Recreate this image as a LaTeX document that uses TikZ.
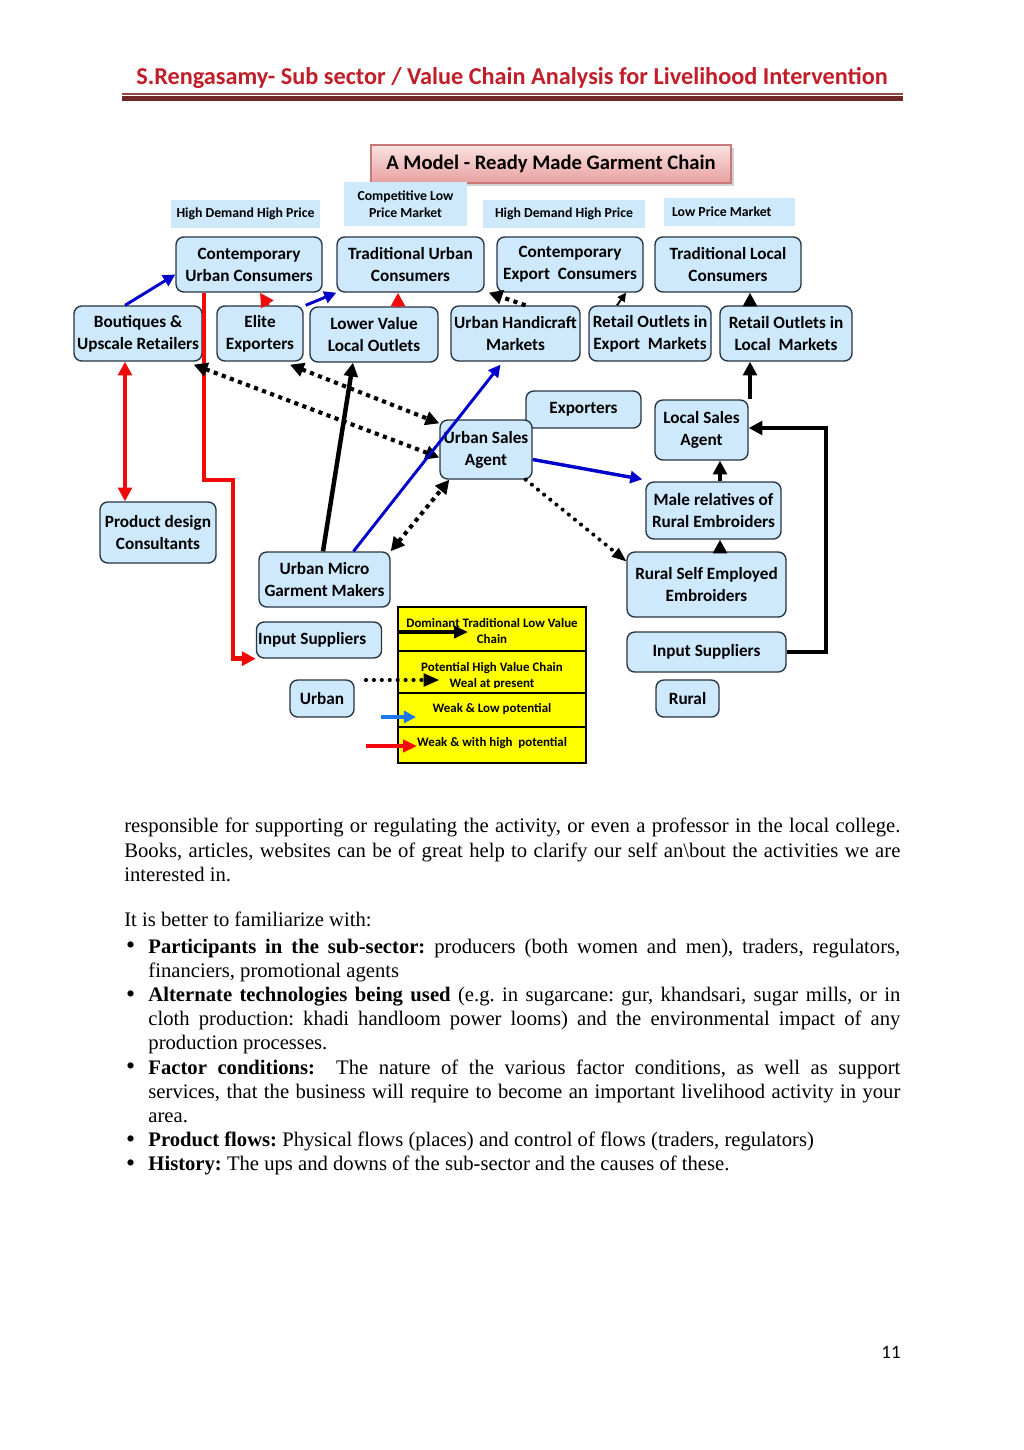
\documentclass[tikz,border=0pt]{standalone}
\usepackage{fontspec}
\setmainfont{Liberation Serif}
\newfontfamily\calib{Carlito}
\usetikzlibrary{arrows.meta,shadows,calc}
\newdimen\pxu \pxu=0.581pt
\definecolor{hdr}{RGB}{192,30,40}
\definecolor{rulec}{RGB}{110,40,40}
\definecolor{rulet}{RGB}{150,70,70}
\definecolor{boxfill}{RGB}{205,233,251}
\definecolor{boxline}{RGB}{40,52,66}
\definecolor{lblfill}{RGB}{205,233,251}
\definecolor{pinkA}{RGB}{250,226,226}
\definecolor{pinkB}{RGB}{232,160,160}
\definecolor{pinkline}{RGB}{200,120,120}
\definecolor{dblue}{RGB}{0,0,205}
\definecolor{lblue}{RGB}{30,120,235}
\definecolor{dred}{RGB}{240,10,10}
\definecolor{yel}{RGB}{255,255,0}
\tikzset{
  box/.style={draw=boxline, fill=boxfill, rounded corners=4.5pt, line width=0.8pt,
    align=center, inner sep=1pt, font=\calib\bfseries\fontsize{10}{12.8}\selectfont},
  sz/.style 2 args={minimum width=#1\pxu, minimum height=#2\pxu},
  lbl/.style={fill=lblfill, inner sep=0pt, align=center, font=\calib\bfseries\fontsize{8}{10}\selectfont},
  legrow/.style={draw=black, fill=yel, line width=0.6pt, inner sep=0pt, minimum width=188\pxu},
  legtxt/.style={align=center, inner sep=0pt, font=\calib\bfseries\fontsize{7.5}{9.3}\selectfont},
  tk/.style={line width=2.3pt, -{Triangle[length=8pt,width=8pt]}},
  tkb/.style={line width=1.7pt, dblue, -{Triangle[length=7pt,width=7pt]}},
  tkr/.style={line width=2.3pt, dred, -{Triangle[length=8pt,width=8pt]}},
  sqdot/.style={line width=2.4pt, dash pattern=on 2.4pt off 2.6pt, {Triangle[length=8pt,width=8pt]}-{Triangle[length=8pt,width=8pt]}},
  rddot/.style={line width=2.4pt, line cap=round, dash pattern=on 0pt off 4.6pt},
}
\newcommand{\bul}{\leavevmode\hangindent=14pt\hangafter=1\makebox[14pt][l]{\hspace{1pt}\raisebox{-0.4pt}{\fontsize{15}{15}\selectfont•}}}
\begin{document}
\begin{tikzpicture}[x=0.581pt, y=-0.581pt]
\useasboundingbox (0,0) rectangle (1024,1450);
\fill[white] (0,0) rectangle (1024,1450);

% header
\node[font=\calib\bfseries\fontsize{14.1}{16}\selectfont, text=hdr, inner sep=0pt] (hd) at (512,78) {S.Rengasamy- Sub sector / Value Chain Analysis for Livelihood Intervention};
\draw[rulet, line width=0.6pt] (122,94) -- (903,94);
\fill[rulec] (122,96.5) rectangle (903,101);

% title
\node[draw=pinkline, line width=0.6pt, top color=pinkA, bottom color=pinkB, minimum width=360\pxu, minimum height=38\pxu,
  inner sep=0pt, font=\calib\bfseries\fontsize{12}{14}\selectfont,
  drop shadow={shadow xshift=2pt, shadow yshift=-2pt, fill=black!35}] (title) at (551,164) {A Model - Ready Made Garment Chain};

% market labels
\node[lbl, sz={149}{28}] (l1) at (245.5,214) {High Demand High Price};
\node[lbl, sz={123}{44}] (l2) at (405.5,204) {Competitive Low\\Price Market};
\node[lbl, sz={162}{28}] (l3) at (564,214) {High Demand High Price};
\node[lbl, sz={131}{28}] (l4) at (729.5,212) {Low Price Market\hspace{9pt}};

% consumers
\node[box, sz={146}{55}] (cuc) at (249,264.5) {Contemporary\\Urban Consumers};
\node[box, sz={147}{55}] (tuc) at (410.5,264.5) {Traditional Urban\\Consumers};
\node[box, sz={146}{55}] (cec) at (570,264.5) {Contemporary\\Export\ \ Consumers};
\node[box, sz={146}{55}] (tlc) at (728,264.5) {Traditional Local\\Consumers};

% retail row
\node[box, sz={128}{55}] (bou) at (138,333.5) {Boutiques \&\\Upscale Retailers};
\node[box, sz={86}{55}] (eli) at (260,333.5) {Elite\\Exporters};
\node[box, sz={128}{55}] (lvl) at (374,334.5) {Lower Value\\Local Outlets};
\node[box, sz={129}{55}] (uhm) at (515.5,333.5) {Urban Handicraft\\Markets};
\node[box, sz={122}{55}] (roe) at (650,333.5) {Retail Outlets in\\Export\ \ Markets};
\node[box, sz={132}{55}] (rol) at (786,333.5) {Retail Outlets in\\Local\ \ Markets};

% middle
\node[box, sz={115}{37}] (exp) at (583.5,409.5) {Exporters};
\node[box, sz={92}{59}] (usa) at (486,449.5) {Urban Sales\\Agent};
\node[box, sz={93}{60}] (lsa) at (701.5,430) {Local Sales\\Agent};
\node[box, sz={135}{57}] (mre) at (713.5,510.5) {Male relatives of\\Rural Embroiders};
\node[box, sz={116}{61}] (pdc) at (158,532.5) {Product design\\Consultants};
\node[box, sz={131}{55}] (umg) at (324.5,579.5) {Urban Micro\\Garment Makers};
\node[box, sz={159}{65}] (rse) at (706.5,584.5) {Rural Self Employed\\Embroiders};
\node[box, sz={122}{36}] (isu) at (319,640) {Input Suppliers\hspace{8pt}};
\node[box, sz={159}{40}] (isr) at (706.5,652) {Input Suppliers};
\node[box, sz={64}{37}] (urb) at (322,698.5) {Urban};
\node[box, sz={63}{37}] (rur) at (687.5,698.5) {Rural};

% legend
\node[legrow, minimum height=44\pxu] (leg1) at (492,629) {};
\node[legrow, minimum height=42\pxu] (leg2) at (492,672) {};
\node[legrow, minimum height=34\pxu] (leg3) at (492,710) {};
\node[legrow, minimum height=36\pxu] (leg4) at (492,745) {};
\node[legtxt] (lt1) at (492,631) {Dominant Traditional Low Value\\Chain};
\begin{scope}
\clip (398,652) rectangle (586,687);
\node[legtxt] (lt2) at (492,676) {Potential High Value Chain\\Weal at present};
\end{scope}
\node[legtxt] (lt3) at (492,709) {Weak \& Low potential};
\node[legtxt] (lt4) at (492,743) {Weak \& with high\ \ potential};
\coordinate (g1s) at (398,632); \coordinate (g1e) at (468,632);
\coordinate (g2s) at (366,680); \coordinate (g2e) at (439,680);
\coordinate (g3s) at (381,717); \coordinate (g3e) at (416,717);
\coordinate (g4s) at (366,746); \coordinate (g4e) at (417,746);
\draw[line width=1.9pt, -{Triangle[length=8pt,width=7pt]}] (g1s) -- (g1e);
\draw[rddot] (g2s) -- ([xshift=-8pt]g2e);
\fill ([xshift=-9pt, yshift=4pt]g2e) -- (g2e) -- ([xshift=-9pt, yshift=-4pt]g2e) -- cycle;
\draw[line width=2.3pt, lblue, -{Triangle[length=7pt,width=7pt]}] (g3s) -- (g3e);
\draw[line width=2.3pt, dred, -{Triangle[length=8pt,width=7pt]}] (g4s) -- (g4e);

% connectors upper
\draw[tkb] ([xshift=-13\pxu]bou.north) -- ([yshift=-10\pxu]cuc.west);
\draw[tkr] ([xshift=8\pxu]eli.north) -- ([xshift=11\pxu]cuc.south);
\draw[tkb] ([xshift=2\pxu]eli.north east) -- (tuc.south west);
\draw[tkr] ([xshift=24\pxu]lvl.north) -- ([xshift=-12.5\pxu]tuc.south);
\draw[line width=2.4pt, dash pattern=on 2.4pt off 2.6pt, -{Triangle[length=8pt,width=8pt]}] ([xshift=10\pxu]uhm.north) -- ([xshift=4\pxu]tuc.south east);
\draw[line width=1.1pt, -{Triangle[length=5pt,width=5pt]}] ([xshift=-33\pxu]roe.north) -- ([xshift=56\pxu]cec.south);
\draw[tk] ([xshift=-36\pxu]rol.north) -- ([xshift=22\pxu]tlc.south);

% red elbow
\coordinate (redA) at (233,480);
\draw[line width=2.6pt, dred, -{Triangle[length=8pt,width=8pt]}] ([xshift=-45\pxu]cuc.south) |- (redA) |- (isu.south west);
\draw[line width=2.6pt, dred, {Triangle[length=8pt,width=8pt]}-{Triangle[length=8pt,width=8pt]}] ([xshift=-13\pxu]bou.south) -- ([xshift=-33\pxu]pdc.north);

% dotted links with urban sales agent
\draw[sqdot] ([xshift=-9\pxu, yshift=-3\pxu]bou.south east) -- ([yshift=-8\pxu]usa.west);
\draw[sqdot] ([xshift=30\pxu, yshift=-3\pxu]eli.south) -- ([yshift=-4\pxu]usa.north west);
\draw[sqdot] (umg.north east) -- ([xshift=10\pxu]usa.south west);

% from urban micro garment makers
\draw[line width=2.6pt, -{Triangle[length=8pt,width=8pt]}] ([xshift=-1.5\pxu]umg.north) -- ([xshift=-21\pxu]lvl.south);
\draw[tkb] ([xshift=29\pxu]umg.north) -- ([xshift=-15\pxu, yshift=-3\pxu]uhm.south);

% from urban sales agent
\draw[line width=2pt, dblue, -{Triangle[length=7pt,width=7pt]}] ([yshift=-10\pxu]usa.east) -- ([xshift=-3\pxu, yshift=2\pxu]mre.north west);
\draw[rddot] ([xshift=-7\pxu]usa.south east) -- ($([yshift=-10\pxu]rse.north west)!8pt!([xshift=-7\pxu]usa.south east)$);
\fill[black] let \p1=([yshift=-10\pxu]rse.north west), \p2=([xshift=-7\pxu]usa.south east), \n1={atan2(\y2-\y1,\x2-\x1)} in
  (\p1) -- ++(\n1+22:9pt) -- ++(\n1-90:6.7pt) -- cycle;

% rural chain
\draw[tk] ([xshift=6.5\pxu]mre.north) -- ([xshift=18.5\pxu]lsa.south);
\draw[tk] ([xshift=13.5\pxu]rse.north) -- ([xshift=6.5\pxu]mre.south);
\coordinate (elb) at (826,428);
\draw[line width=2.6pt, -{Triangle[length=8pt,width=8pt]}] (isr.east) -| (elb) -- (elb -| lsa.east);
\draw[tk] ([xshift=48.5\pxu]lsa.north) -- ([xshift=-36\pxu]rol.south);

% body text
\node[anchor=north west, inner sep=0pt, text width=776\pxu, align=justify,
  font=\fontsize{12}{14.05}\selectfont] (body) at (124,818) {%
\parindent=0pt\frenchspacing
responsible for supporting or regulating the activity, or even a professor in the local college.\linebreak
Books, articles, websites can be of great help to clarify our self an\textbackslash bout the activities we are\linebreak
interested in.\par\vspace{12.1pt}
It is better to familiarize with:\par\vspace{1.6pt}
\bul\textbf{Participants in the sub-sector:} producers (both women and men), traders, regulators,\linebreak
financiers, promotional agents\par
\bul\textbf{Alternate technologies being used} (e.g. in sugarcane: gur, khandsari, sugar mills, or in\linebreak
cloth production: khadi handloom power looms) and the environmental impact of any\linebreak
production processes.\par
\bul\textbf{Factor conditions:}\ \ The nature of the various factor conditions, as well as support\linebreak
services, that the business will require to become an important livelihood activity in your\linebreak
area.\par
\bul\textbf{Product flows:} Physical flows (places) and control of flows (traders, regulators)\par
\bul\textbf{History:} The ups and downs of the sub-sector and the causes of these.\par
};

% page number
\node[font=\calib\fontsize{11}{13}\selectfont, inner sep=0pt] (pg) at (891,1352) {11};
\end{tikzpicture}
\end{document}
